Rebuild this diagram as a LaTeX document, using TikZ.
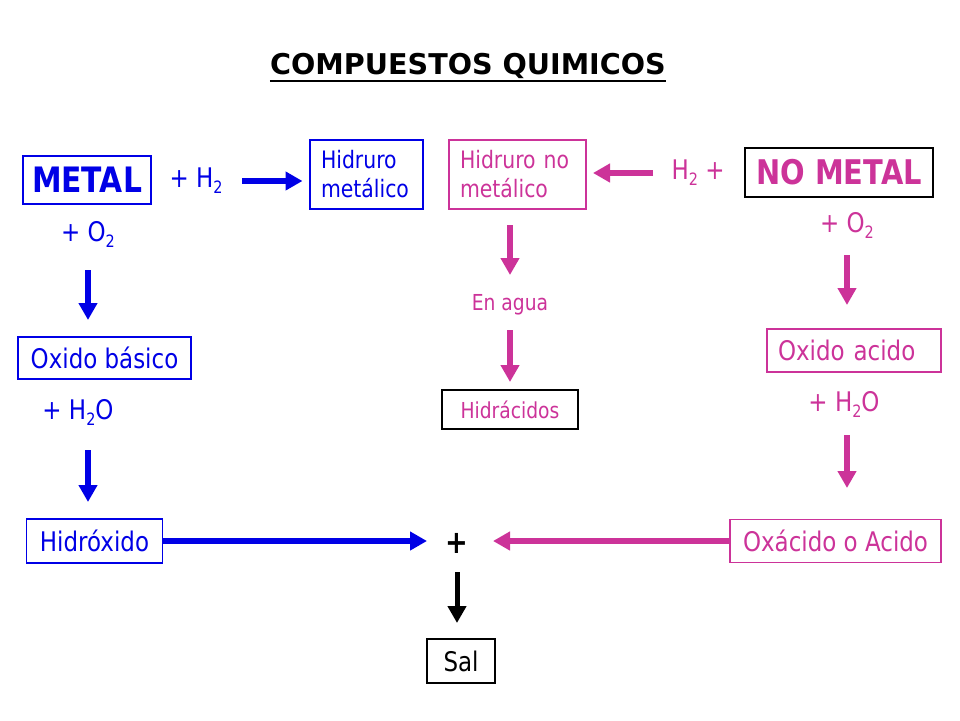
\documentclass[tikz,border=0pt]{standalone}
\usepackage{fontspec}
\setmainfont[FakeStretch=0.85]{DejaVu Sans}
\newfontfamily\titlefont{DejaVu Sans}
\usepackage{tikz}
\usetikzlibrary{arrows.meta,calc,positioning}
\definecolor{myblue}{RGB}{0,0,230}
\definecolor{mypink}{RGB}{204,51,153}
\newcommand{\dn}[1]{\raisebox{-6pt}{\fontsize{17}{17}\selectfont #1}}

\begin{document}
\begin{tikzpicture}[x=1pt,y=-1pt]
	\path [use as bounding box] (0,0) rectangle (960,720);
	\tikzstyle{every node} = [inner sep=0pt]
	\tikzstyle{txt} = [font=\fontsize{27}{32}\selectfont]
	\tikzstyle{small} = [font=\fontsize{22}{27}\selectfont]
	\tikzstyle{box} = [draw, line width=1.2pt, txt]
	\tikzstyle{bluebox} = [box, draw=myblue, text=myblue]
	\tikzstyle{pinkbox} = [box, draw=mypink, text=mypink]
	\tikzstyle{arr} = [line width=6pt, -{Triangle[width=18pt,length=17pt]}]
	% title
	\node[anchor=base, font=\titlefont\bfseries\fontsize{28.6}{34}\selectfont] (title) at (468,74) {COMPUESTOS QUIMICOS};
	\draw[line width=2.2pt] ([yshift=-7pt]title.base west) -- ([yshift=-7pt]title.base east);
	% top row
	\node[bluebox, minimum width=128pt, minimum height=48pt, font=\bfseries\fontsize{35}{40}\selectfont] (metal) at (87,180) {METAL};
	\node[txt, text=myblue] (h2a) at (196,181) {+ H\dn{2}};
	\node[bluebox, font=\fontsize{24}{29}\selectfont, text width=91pt, inner xsep=11pt, align=left, minimum height=69pt] (hm) at (366.5,174.5) {Hidruro\\metálico};
	\node[pinkbox, font=\fontsize{24}{29}\selectfont, text width=115pt, inner xsep=11pt, align=left, minimum height=69pt] (hnm) at (517.5,174.5) {Hidruro no\\metálico};
	\node[txt, text=mypink] (h2b) at (698,173) {H\dn{2} +};
	\node[box, text=mypink, minimum width=188pt, minimum height=49pt, font=\bfseries\fontsize{34}{40}\selectfont] (nometal) at (839,172.5) {NO METAL};
	% left column
	\node[txt, text=myblue] (o2a) at (88,234) {+ O\dn{2}};
	\node[bluebox, minimum width=173pt, minimum height=42pt] (obas) at (104.5,358) {Oxido básico};
	\node[txt, text=myblue] (h2oa) at (78,412) {+ H\dn{2}O};
	\node[bluebox, minimum width=136pt, minimum height=44pt] (hidrox) at (94.5,541) {Hidróxido};
	% middle column
	\node[small, text=mypink] (agua) at (510,305) {En agua};
	\node[box, small, text=mypink, minimum width=136pt, minimum height=39pt] (hidra) at (510,409.5) {Hidrácidos};
	\node[font=\bfseries\fontsize{32}{32}\selectfont] (plus) at (457,543) {+};
	\node[box, minimum width=68pt, minimum height=44pt] (sal) at (461,661) {Sal};
	% right column
	\node[txt, text=mypink] (o2b) at (847,225) {+ O\dn{2}};
	\node[pinkbox, text width=152pt, inner xsep=11pt, align=left, minimum height=43pt] (oac) at (854,350.5) {Oxido acido};
	\node[txt, text=mypink] (h2ob) at (844,404) {+ H\dn{2}O};
	\node[pinkbox, minimum width=211pt, minimum height=43pt] (oxac) at (835.5,541) {Oxácido o Acido};
	% arrows
	\draw[arr, myblue, shorten <=46pt, shorten >=64pt] (h2a.center) -- (h2a -| hm.center);
	\draw[arr, mypink, shorten <=45pt, shorten >=75.5pt] (h2b.center) -- (h2b -| hnm.center);
	\draw[arr, myblue, shorten <=36pt, shorten >=38pt] (o2a.center) -- (o2a |- obas.center);
	\draw[arr, myblue, shorten <=38pt, shorten >=39pt] (o2a |- h2oa.center) -- (o2a |- hidrox.center);
	\draw[arr, mypink, shorten <=50.5pt, shorten >=30pt] (agua |- hnm.center) -- (agua.center);
	\draw[arr, mypink, shorten <=25pt, shorten >=27.5pt] (agua.center) -- (agua |- hidra.center);
	\draw[arr, mypink, shorten <=30pt, shorten >=45.5pt] (o2b.center) -- (o2b |- oac.center);
	\draw[arr, mypink, shorten <=31pt, shorten >=53pt] (o2b |- h2ob.center) -- (o2b |- oxac.center);
	\draw[arr, myblue, shorten >=30pt] (hidrox.east) -- (hidrox -| plus.center);
	\draw[arr, mypink, shorten >=36pt] (oxac.west) -- (oxac -| plus.center);
	\draw[arr, black, line width=5pt, shorten <=29pt, shorten >=38pt] (plus.center) -- (plus |- sal.center);
\end{tikzpicture}
\end{document}
